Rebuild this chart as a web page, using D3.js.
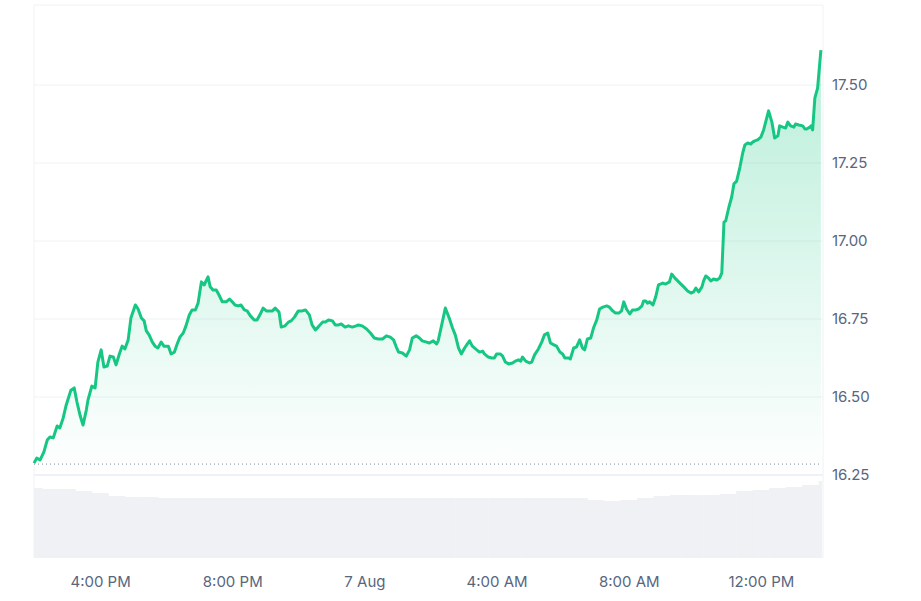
<!DOCTYPE html><html><head><meta charset="utf-8"><script src="https://cdn.jsdelivr.net/npm/d3@7"></script>
<style>body{margin:0;background:#fff}text{font-family:Inter,"Noto Sans",sans-serif}</style></head><body><svg id="c" width="921" height="601"></svg>
<script>
const minutes=[0,5,11,18,24,29,35,42,47,53,58,67,73,78,84,89,95,98,105,111,116,122,127,133,138,144,149,155,160,165,171,176,184,189,195,200,204,209,215,220,225,231,236,244,249,255,260,265,271,276,282,287,293,298,304,309,316,320,325,331,336,342,349,355,360,365,371,376,382,387,393,400,405,411,416,422,427,433,438,445,449,456,462,467,473,480,487,493,500,505,511,516,524,529,535,542,547,553,558,565,571,578,585,589,596,604,611,618,625,633,640,647,653,658,662,669,676,682,687,694,700,705,713,718,725,731,734,740,747,754,760,765,771,776,782,787,791,796,804,809,815,818,825,831,836,840,847,851,856,862,869,874,880,884,887,893,900,904,909,916,922,927,933,938,944,949,955,960,964,971,974,980,985,991,996,1000,1005,1011,1016,1022,1027,1033,1040,1045,1051,1056,1062,1067,1071,1076,1082,1087,1093,1098,1104,1107,1111,1114,1118,1124,1129,1134,1142,1147,1154,1158,1164,1173,1180,1187,1193,1198,1202,1207,1213,1216,1220,1225,1229,1234,1240,1245,1249,1253,1256,1262,1267,1271,1276,1282,1287,1291,1296,1302,1305,1309,1314,1320,1325,1334,1340,1345,1351,1354,1360,1365,1369,1374,1380,1383,1389,1396,1400,1403,1409,1411,1414,1418,1423,1429];
const prices=[16.288,16.304,16.298,16.324,16.362,16.372,16.369,16.407,16.401,16.433,16.471,16.522,16.529,16.484,16.439,16.410,16.458,16.490,16.535,16.529,16.612,16.651,16.596,16.599,16.631,16.628,16.603,16.638,16.663,16.654,16.683,16.753,16.795,16.782,16.753,16.744,16.712,16.699,16.676,16.663,16.657,16.676,16.663,16.663,16.638,16.644,16.670,16.692,16.705,16.728,16.763,16.779,16.779,16.801,16.869,16.859,16.885,16.853,16.843,16.843,16.827,16.805,16.805,16.814,16.805,16.795,16.792,16.795,16.779,16.776,16.760,16.747,16.747,16.766,16.785,16.776,16.776,16.776,16.785,16.772,16.724,16.728,16.740,16.744,16.756,16.776,16.776,16.779,16.763,16.731,16.715,16.724,16.740,16.740,16.747,16.744,16.731,16.731,16.734,16.724,16.728,16.724,16.728,16.731,16.728,16.718,16.705,16.689,16.686,16.686,16.696,16.692,16.683,16.660,16.644,16.641,16.631,16.651,16.689,16.696,16.689,16.680,16.676,16.673,16.680,16.670,16.680,16.728,16.785,16.753,16.721,16.699,16.657,16.638,16.657,16.670,16.680,16.663,16.651,16.644,16.647,16.638,16.628,16.625,16.625,16.638,16.638,16.631,16.612,16.606,16.609,16.615,16.619,16.615,16.628,16.615,16.609,16.612,16.635,16.654,16.676,16.699,16.705,16.673,16.667,16.663,16.644,16.638,16.625,16.625,16.622,16.657,16.660,16.683,16.657,16.651,16.686,16.689,16.721,16.747,16.782,16.788,16.792,16.788,16.776,16.769,16.769,16.776,16.805,16.782,16.766,16.779,16.779,16.782,16.792,16.808,16.808,16.801,16.805,16.795,16.821,16.859,16.865,16.862,16.869,16.894,16.881,16.865,16.853,16.840,16.833,16.837,16.849,16.837,16.853,16.872,16.888,16.881,16.872,16.878,16.875,16.881,16.897,17.061,17.064,17.109,17.141,17.183,17.192,17.237,17.282,17.308,17.314,17.311,17.317,17.321,17.324,17.333,17.356,17.417,17.381,17.330,17.337,17.369,17.365,17.362,17.381,17.369,17.365,17.375,17.372,17.369,17.359,17.359,17.365,17.369,17.356,17.458,17.490,17.612];
const volumes=[70,69,69,67,65,62,61,61,60,60,60,60,60,60,60,60,60,60,60,60,60,60,60,60,60,60,60,60,60,60,60,60,60,60,58,57,58,60,62,63,63,63,64,67,68,70,71,73,77];
const yTicks=[16.25,16.5,16.75,17.0,17.25,17.5];
const xTickLabels=["4:00 PM","8:00 PM","7 Aug","4:00 AM","8:00 AM","12:00 PM"];
const xTickHours=[16,20,24,28,32,36];
const openPrice=16.285;

const start=new Date(2024,7,6,14,0);
const T=m=>new Date(start.getTime()+m*60000);
const data=minutes.map((m,i)=>({t:T(m),v:prices[i]}));
const svg=d3.select("#c");
const L=34,R=822;
const x=d3.scaleTime().domain([T(0),T(1431)]).range([L,R]);
const y=d3.scaleLinear().domain([16.25,17.5]).range([475,85]);
const yv=d3.scaleLinear().domain([0,83]).range([558,475]);

const defs=svg.append("defs");
const g=defs.append("linearGradient").attr("id","gr").attr("x1",0).attr("x2",0).attr("y1",0).attr("y2",1);
g.append("stop").attr("offset","0%").attr("stop-color","#16c784").attr("stop-opacity",0.3);
g.append("stop").attr("offset","100%").attr("stop-color","#16c784").attr("stop-opacity",0);

svg.selectAll(".gl").data(yTicks.slice(1)).enter().append("line")
 .attr("x1",L).attr("x2",R+1).attr("y1",d=>y(d)).attr("y2",d=>y(d)).attr("stroke","#eff2f5");
svg.append("line").attr("x1",L).attr("x2",R+1).attr("y1",475).attr("y2",475).attr("stroke","#eff2f5").attr("stroke-width",2);
svg.append("line").attr("x1",L).attr("x2",R+1).attr("y1",5).attr("y2",5).attr("stroke","#eff2f5");
svg.append("line").attr("x1",R+1).attr("x2",R+1).attr("y1",5).attr("y2",558).attr("stroke","#eff2f5");
svg.append("line").attr("x1",L).attr("x2",L).attr("y1",5).attr("y2",558).attr("stroke","#eff2f5");

defs.append("clipPath").attr("id","cp").append("rect").attr("x",L).attr("y",0).attr("width",R-L).attr("height",601);
const bw=(R-L)/(volumes.length-1);
svg.selectAll(".vb").data(volumes).enter().append("rect")
 .attr("x",(d,i)=>x(T(i*30))-bw/2).attr("width",bw+0.5).attr("y",d=>yv(d)).attr("height",d=>558-yv(d))
 .attr("fill","#eff1f4").attr("clip-path","url(#cp)");

svg.append("path").datum(data).attr("fill","url(#gr)")
 .attr("d",d3.area().x(d=>x(d.t)).y0(475).y1(d=>y(d.v)));
svg.append("line").attr("x1",L).attr("x2",R).attr("y1",y(openPrice)).attr("y2",y(openPrice))
 .attr("stroke","#808a9d").attr("stroke-dasharray","1,3");
svg.append("path").datum(data).attr("fill","none").attr("stroke","#16c784").attr("stroke-width",3)
 .attr("stroke-linejoin","round").attr("d",d3.line().x(d=>x(d.t)).y(d=>y(d.v)));

const ya=d3.axisRight(y).tickValues(yTicks).tickFormat(d3.format(".2f")).tickSize(0).tickPadding(10);
const yg=svg.append("g").attr("transform",`translate(${R},0)`).call(ya);
const xa=d3.axisBottom(x).tickValues(xTickHours.map(h=>T((h-14)*60))).tickFormat((d,i)=>xTickLabels[i]).tickSize(0).tickPadding(10);
const xg=svg.append("g").attr("transform","translate(0,566)").call(xa);
[yg,xg].forEach(a=>{a.select(".domain").remove();a.selectAll("text").attr("fill","#58667e").style("font-size","15px");});
</script></body></html>
